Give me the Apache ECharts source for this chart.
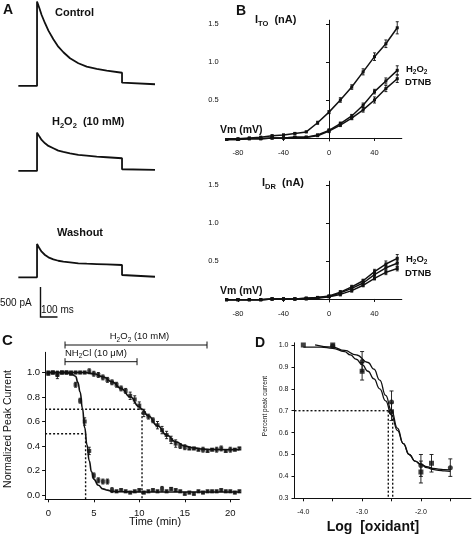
<!DOCTYPE html>
<html>
<head>
<meta charset="utf-8">
<script src="https://cdn.jsdelivr.net/npm/echarts@6/dist/echarts.min.js"></script>
<style>
  html, body { margin: 0; padding: 0; background: #fff; }
  #chart { width: 474px; height: 534px; }
</style>
</head>
<body>
<div id="chart"></div>
<script>
// ---- panel A : current traces (time in ms, current in pA) ----
const aTime    = [-110, 0, 0, 14, 27, 47, 67, 96, 125, 155, 194, 243, 292, 351, 410, 500, 500, 694];
const aControl = [0, 0, 1560, 1437, 1313, 1160, 1023, 864, 727, 623, 512, 420, 357, 315, 283, 244, 61, 31];
const aH2O2    = [0, 0, 709, 635, 574, 512, 463, 420, 376, 352, 327, 296, 283, 265, 253, 235, 31, 18];
const aWashout = [0, 0, 616, 537, 474, 413, 370, 333, 307, 289, 278, 259, 252, 246, 240, 228, 43, 11];

// ---- panel B : I-V curves (mV, nA) ----
const bV = [-90, -80, -70, -60, -50, -40, -30, -20, -10, 0, 10, 20, 30, 40, 50, 60];
const bToCtrl     = [-0.02, -0.01, 0.0, 0.01, 0.03, 0.04, 0.06, 0.08, 0.2, 0.34, 0.5, 0.67, 0.87, 1.07, 1.24, 1.45];
const bToCtrlErr  = [0.01, 0.01, 0.01, 0.01, 0.01, 0.01, 0.01, 0.01, 0.02, 0.02, 0.03, 0.03, 0.04, 0.05, 0.05, 0.08];
const bToH2O2     = [-0.02, -0.02, -0.01, -0.01, 0.0, 0.0, 0.01, 0.01, 0.04, 0.1, 0.19, 0.29, 0.43, 0.61, 0.75, 0.89];
const bToH2O2Err  = [0.01, 0.01, 0.01, 0.01, 0.01, 0.01, 0.01, 0.01, 0.01, 0.02, 0.02, 0.02, 0.03, 0.03, 0.04, 0.06];
const bToDtnb     = [-0.02, -0.02, -0.01, -0.01, 0.0, 0.0, 0.01, 0.01, 0.03, 0.09, 0.17, 0.26, 0.37, 0.5, 0.65, 0.78];
const bToDtnbErr  = [0.01, 0.01, 0.01, 0.01, 0.01, 0.01, 0.01, 0.01, 0.01, 0.02, 0.02, 0.02, 0.03, 0.04, 0.04, 0.05];
const bDrH2O2     = [-0.01, -0.01, -0.01, -0.01, 0.0, 0.0, 0.0, 0.01, 0.02, 0.04, 0.09, 0.16, 0.24, 0.36, 0.46, 0.535];
const bDrH2O2Err  = [0.01, 0.01, 0.01, 0.01, 0.01, 0.01, 0.01, 0.01, 0.01, 0.01, 0.02, 0.02, 0.02, 0.03, 0.04, 0.05];
const bDrCtrl     = [-0.01, -0.01, -0.01, -0.01, 0.0, 0.0, 0.0, 0.01, 0.02, 0.03, 0.08, 0.14, 0.21, 0.32, 0.41, 0.47];
const bDrCtrlErr  = [0.01, 0.01, 0.01, 0.01, 0.01, 0.01, 0.01, 0.01, 0.01, 0.01, 0.02, 0.02, 0.02, 0.03, 0.03, 0.04];
const bDrDtnb     = [-0.01, -0.01, -0.01, -0.01, 0.0, 0.0, 0.0, 0.0, 0.01, 0.03, 0.06, 0.11, 0.18, 0.27, 0.35, 0.40];
const bDrDtnbErr  = [0.01, 0.01, 0.01, 0.01, 0.01, 0.01, 0.01, 0.01, 0.01, 0.01, 0.02, 0.02, 0.02, 0.02, 0.03, 0.03];
const bTicks  = [-80, -40, 0, 40];
const bYTicks = [0.5, 1.0, 1.5];

// ---- panel C : time course (min, normalized) ----
const cTime = [0, 0.5, 1, 1.5, 2, 2.5, 3, 3.5, 4, 4.5, 5, 5.5, 6, 6.5, 7, 7.5, 8, 8.5, 9, 9.5, 10,
  10.5, 11, 11.5, 12, 12.5, 13, 13.5, 14, 14.5, 15, 15.5, 16, 16.5, 17, 17.5, 18, 18.5, 19, 19.5, 20, 20.5, 21];
const cH2O2 = [1.00, 1.00, 0.99, 1.00, 1.00, 1.00, 1.00, 1.00, 1.00, 1.01, 0.99, 0.98, 0.96, 0.94, 0.92, 0.90,
  0.87, 0.85, 0.81, 0.78, 0.73, 0.67, 0.64, 0.61, 0.57, 0.53, 0.49, 0.45, 0.42, 0.40, 0.39, 0.38, 0.38, 0.37,
  0.37, 0.36, 0.37, 0.37, 0.38, 0.36, 0.37, 0.37, 0.38];
const cH2O2Err = [0.01, 0.01, 0.02, 0.01, 0.01, 0.01, 0.01, 0.01, 0.01, 0.02, 0.02, 0.02, 0.02, 0.02, 0.02, 0.02,
  0.02, 0.02, 0.03, 0.03, 0.03, 0.03, 0.02, 0.02, 0.03, 0.03, 0.03, 0.03, 0.03, 0.02, 0.02, 0.01, 0.01, 0.01,
  0.02, 0.01, 0.01, 0.02, 0.02, 0.01, 0.02, 0.01, 0.01];
const cNH2Cl = [0.99, 1.00, 0.98, 1.00, 1.00, 0.99, 0.90, 0.77, 0.60, 0.36, 0.16, 0.12, 0.11, 0.11, 0.04, 0.03,
  0.04, 0.03, 0.02, 0.03, 0.04, 0.02, 0.03, 0.04, 0.03, 0.05, 0.03, 0.05, 0.04, 0.03, 0.01, 0.02, 0.01, 0.03,
  0.02, 0.03, 0.03, 0.03, 0.04, 0.03, 0.03, 0.02, 0.03];
const cNH2ClErr = [0.01, 0.01, 0.03, 0.01, 0.01, 0.01, 0.02, 0.02, 0.03, 0.03, 0.02, 0.02, 0.02, 0.02, 0.02, 0.01,
  0.01, 0.01, 0.01, 0.01, 0.01, 0.01, 0.01, 0.01, 0.01, 0.02, 0.01, 0.01, 0.01, 0.01, 0.01, 0.01, 0.01, 0.01,
  0.01, 0.01, 0.01, 0.01, 0.01, 0.01, 0.01, 0.01, 0.01];
const cFitFastT = [0, 1, 2, 2.5, 3, 3.25, 3.5, 3.75, 4, 4.25, 4.5, 4.75, 5, 5.5, 6, 6.5, 7, 8, 10, 15, 21];
const cFitFastV = [1.0, 1.0, 1.0, 0.99, 0.97, 0.92, 0.84, 0.71, 0.55, 0.41, 0.28, 0.19, 0.13, 0.08, 0.05, 0.04, 0.03, 0.027, 0.025, 0.025, 0.025];
const cFitSlowT = [0, 2, 4, 5, 6, 7, 8, 9, 10, 10.3, 11, 12, 13, 14, 15, 16, 17, 18, 21];
const cFitSlowV = [1.0, 1.0, 1.0, 0.99, 0.965, 0.925, 0.87, 0.80, 0.72, 0.70, 0.645, 0.565, 0.49, 0.435, 0.40, 0.385, 0.375, 0.372, 0.37];
const cH2O2Span  = [1.84, 17.44];   // H2O2 application, min
const cNH2ClSpan = [1.84, 9.75];    // NH2Cl application, min
const cT50 = 4.1, cT70 = 10.3;
const cXTicks = [0, 5, 10, 15, 20];
const cYTicks = [0, 0.2, 0.4, 0.6, 0.8, 1.0];

// ---- panel D : concentration response ----
const dCircX = [-3.5, -3.0, -2.5, -2.0, -1.5];
const dCircY = [0.995, 0.925, 0.74, 0.45, 0.44];
const dCircE = [0, 0.045, 0.05, 0.05, 0.04];
const dSqX = [-4.0, -3.5, -3.0, -2.5, -2.0, -1.82];
const dSqY = [1.0, 1.0, 0.88, 0.695, 0.42, 0.46];
const dSqE = [0, 0, 0.04, 0.04, 0.05, 0.04];
const dFitAX = [-3.8, -3.5, -3.3, -3.1, -2.9, -2.8, -2.7, -2.6, -2.5, -2.4, -2.3, -2.2, -2.1, -2.0, -1.9, -1.8, -1.7, -1.6, -1.5];
const dFitAY = [1.0, 0.99, 0.975, 0.955, 0.92, 0.89, 0.84, 0.77, 0.70, 0.62, 0.55, 0.50, 0.47, 0.455, 0.445, 0.437, 0.433, 0.431, 0.43];
const dFitBX = [-4.0, -3.7, -3.5, -3.3, -3.2, -3.1, -3.0, -2.9, -2.8, -2.7, -2.6, -2.5, -2.4, -2.3, -2.2, -2.1, -2.0, -1.9, -1.8, -1.7, -1.6, -1.5];
const dFitBY = [0.99, 0.99, 0.985, 0.97, 0.955, 0.935, 0.91, 0.88, 0.845, 0.80, 0.745, 0.68, 0.61, 0.55, 0.50, 0.47, 0.455, 0.44, 0.432, 0.428, 0.425, 0.423];
const dIC70 = [-2.555, -2.48];
const dXTicks  = [-4.0, -3.5, -3.0, -2.5, -2.0, -1.5];
const dXLabels = [-4.0, -3.0, -2.0];
const dYTicks  = [0.3, 0.4, 0.5, 0.6, 0.7, 0.8, 0.9, 1.0];

const INK = '#111';
const FONT = '"Liberation Sans", Arial, sans-serif';

function zip(xs, ys) { return xs.map((x, i) => [x, ys[i]]); }
function zip3(xs, ys, es) { return xs.map((x, i) => [x, ys[i], es[i]]); }

// 误差线
function errRender(cap) {
  return function (params, api) {
    const x = api.value(0), y = api.value(1), e = api.value(2);
    if (!e) return { type: 'group', children: [] };
    const t = api.coord([x, y + e]), b = api.coord([x, y - e]);
    const st = { stroke: INK, lineWidth: 0.9 };
    return { type: 'group', children: [
      { type: 'line', shape: { x1: t[0], y1: t[1], x2: b[0], y2: b[1] }, style: st },
      { type: 'line', shape: { x1: t[0] - cap, y1: t[1], x2: t[0] + cap, y2: t[1] }, style: st },
      { type: 'line', shape: { x1: b[0] - cap, y1: b[1], x2: b[0] + cap, y2: b[1] }, style: st }
    ]};
  };
}
function errSeries(xs, ys, es, g, cap) {
  return { type: 'custom', xAxisIndex: g, yAxisIndex: g, data: zip3(xs, ys, es),
    encode: { x: 0, y: 1 }, renderItem: errRender(cap), silent: true, z: 3 };
}
function markLine(xs, ys, g, sym, size, w) {
  return { type: 'line', xAxisIndex: g, yAxisIndex: g, data: zip(xs, ys), symbol: sym, symbolSize: size,
    itemStyle: { color: INK }, lineStyle: { color: INK, width: w }, silent: true, z: 4 };
}
function dots(xs, ys, g, sym, size) {
  return { type: 'scatter', xAxisIndex: g, yAxisIndex: g, data: zip(xs, ys), symbol: sym, symbolSize: size,
    itemStyle: { color: INK }, silent: true, z: 4 };
}
function fit(xs, ys, g, w) {
  return { type: 'line', xAxisIndex: g, yAxisIndex: g, data: zip(xs, ys), symbol: 'none', smooth: 0.5,
    smoothMonotone: 'x', lineStyle: { color: INK, width: w }, silent: true, z: 5 };
}
function trace(ys, g) {
  return { type: 'line', xAxisIndex: g, yAxisIndex: g, data: zip(aTime, ys), symbol: 'none',
    lineStyle: { color: INK, width: 1.8 }, silent: true };
}
function guide(pts, g) {
  return { type: 'line', xAxisIndex: g, yAxisIndex: g, data: pts, symbol: 'none',
    lineStyle: { color: INK, width: 1.4, type: [2, 2] }, silent: true, z: 2 };
}
function span(rng, g, dy) {
  return { type: 'custom', xAxisIndex: g, yAxisIndex: g, data: [rng], encode: { x: [0, 1] }, silent: true,
    renderItem: function (params, api) {
      const s = api.coord([api.value(0), 0])[0], e = api.coord([api.value(1), 0])[0];
      const y = params.coordSys.y + dy;
      const st = { stroke: INK, lineWidth: 1 };
      return { type: 'group', children: [
        { type: 'line', shape: { x1: s, y1: y, x2: e, y2: y }, style: st },
        { type: 'line', shape: { x1: s, y1: y - 3.5, x2: s, y2: y + 3.5 }, style: st },
        { type: 'line', shape: { x1: e, y1: y - 3.5, x2: e, y2: y + 3.5 }, style: st }
      ]};
    } };
}

function hiddenAxis(g, min, max) {
  return { type: 'value', gridIndex: g, min: min, max: max, show: false };
}
function axis(g, min, max, ticks, labels, fmt, size, margin, onZero) {
  return { type: 'value', gridIndex: g, min: min, max: max,
    axisLine: { onZero: onZero, lineStyle: { color: INK, width: 1 } },
    axisTick: { customValues: ticks, length: 3, lineStyle: { color: INK, width: 1 } },
    axisLabel: { customValues: labels, formatter: fmt, color: INK, fontFamily: FONT, fontSize: size, margin: margin },
    splitLine: { show: false } };
}
const f1 = v => v.toFixed(1);
const f0 = v => String(v);

function txt(x, y, text, font, align, rot, rich) {
  const el = { type: 'text', x: x, y: y, silent: true,
    style: { text: text, font: font, fill: INK, align: align || 'left', verticalAlign: 'middle' } };
  if (rot) el.rotation = rot;
  if (rich) el.style.rich = rich;
  return el;
}
// 下标：用 padding 把小字压低
function subRich(size, weight) {
  const s = +(size * 0.68).toFixed(1);
  return {
    b: { font: weight + ' ' + size + 'px ' + FONT, fill: INK },
    s: { font: weight + ' ' + s + 'px ' + FONT, fill: INK, verticalAlign: 'bottom',
         padding: [Math.round(size * 0.75), 0, 0, 0] }
  };
}

const chart = echarts.init(document.getElementById('chart'), null, { renderer: 'canvas' });
chart.setOption({
  animation: false,
  backgroundColor: '#fff',
  grid: [
    { left: 18, top: 0, width: 137, height: 91.35 },
    { left: 18, top: 85, width: 137, height: 91.35 },
    { left: 18, top: 191.4, width: 137, height: 91.35 },
    { left: 226.6, top: 20.2, width: 175.2, height: 120.8 },
    { left: 226.6, top: 181.2, width: 175.2, height: 120.8 },
    { left: 45.1, top: 352.3, width: 194.3, height: 147 },
    { left: 294.5, top: 342.8, width: 176.4, height: 155.5 }
  ],
  xAxis: [
    hiddenAxis(0, -112, 694), hiddenAxis(1, -112, 694), hiddenAxis(2, -112, 694),
    axis(3, -90, 64, bTicks, bTicks, f0, 7.5, 8, true),
    axis(4, -90, 64, bTicks, bTicks, f0, 7.5, 8, true),
    axis(5, -0.35, 21, cXTicks, cXTicks, f0, 9.5, 9, false),
    axis(6, -4.15, -1.15, dXTicks, dXLabels, f1, 7, 10, false)
  ],
  yAxis: [
    hiddenAxis(0, -100, 1590), hiddenAxis(1, -100, 1590), hiddenAxis(2, -100, 1590),
    axis(3, -0.04, 1.55, bYTicks, bYTicks, f1, 7.5, 8, true),
    axis(4, -0.04, 1.55, bYTicks, bYTicks, f1, 7.5, 8, true),
    axis(5, -0.035, 1.165, cYTicks, cYTicks, f1, 9.5, 5, false),
    axis(6, 0.3, 1.01, dYTicks, dYTicks, f1, 7, 6, false)
  ],
  series: [
    trace(aControl, 0), trace(aH2O2, 1), trace(aWashout, 2),

    errSeries(bV, bToCtrl, bToCtrlErr, 3, 1.5), markLine(bV, bToCtrl, 3, 'rect', 3, 1.5),
    errSeries(bV, bToH2O2, bToH2O2Err, 3, 1.5), markLine(bV, bToH2O2, 3, 'rect', 3, 1.5),
    errSeries(bV, bToDtnb, bToDtnbErr, 3, 1.5), markLine(bV, bToDtnb, 3, 'rect', 3, 1.5),

    errSeries(bV, bDrH2O2, bDrH2O2Err, 4, 1.5), markLine(bV, bDrH2O2, 4, 'rect', 3, 1.5),
    errSeries(bV, bDrCtrl, bDrCtrlErr, 4, 1.5), markLine(bV, bDrCtrl, 4, 'rect', 3, 1.5),
    errSeries(bV, bDrDtnb, bDrDtnbErr, 4, 1.5), markLine(bV, bDrDtnb, 4, 'rect', 3, 1.5),

    guide([[-0.35, 0.7], [cT70, 0.7], [cT70, -0.035]], 5),
    guide([[-0.35, 0.5], [cT50, 0.5], [cT50, -0.035]], 5),
    errSeries(cTime, cH2O2, cH2O2Err, 5, 1.5), dots(cTime, cH2O2, 5, 'rect', 4),
    errSeries(cTime, cNH2Cl, cNH2ClErr, 5, 1.5), dots(cTime, cNH2Cl, 5, 'rect', 4),
    fit(cFitSlowT, cFitSlowV, 5, 1.6), fit(cFitFastT, cFitFastV, 5, 1.6),
    span(cH2O2Span, 5, -7.3), span(cNH2ClSpan, 5, 9.4),

    guide([[-4.15, 0.7], [dIC70[1], 0.7]], 6),
    guide([[dIC70[0], 0.7], [dIC70[0], 0.3]], 6),
    guide([[dIC70[1], 0.7], [dIC70[1], 0.3]], 6),
    errSeries(dCircX, dCircY, dCircE, 6, 2), dots(dCircX, dCircY, 6, 'circle', 5),
    errSeries(dSqX, dSqY, dSqE, 6, 2), dots(dSqX, dSqY, 6, 'rect', 5),
    fit(dFitAX, dFitAY, 6, 1.3), fit(dFitBX, dFitBY, 6, 1.3)
  ],
  graphic: [
    // panel A
    txt(3, 10.5, 'A', 'bold 14px ' + FONT),
    txt(55, 12.5, 'Control', 'bold 11px ' + FONT),
    txt(52, 122, '{b|H}{s|2}{b|O}{s|2}{b|  (10 mM)}', 'bold 11px ' + FONT, 'left', 0, subRich(11, 'bold')),
    txt(57, 233, 'Washout', 'bold 11px ' + FONT),
    txt(0, 303, '500 pA', '10px ' + FONT),
    txt(41, 310.5, '100 ms', '10px ' + FONT),
    { type: 'polyline', silent: true, shape: { points: [[40.5, 287], [40.5, 317], [57.5, 317]] },
      style: { stroke: INK, lineWidth: 1.4, fill: null } },

    // panel B
    txt(236, 11, 'B', 'bold 14px ' + FONT),
    txt(255, 20, '{b|I}{s|TO}{b|  (nA)}', 'bold 11px ' + FONT, 'left', 0, subRich(11, 'bold')),
    txt(220, 130.5, 'Vm (mV)', 'bold 10.5px ' + FONT),
    txt(406, 69, '{b|H}{s|2}{b|O}{s|2}', 'bold 9.5px ' + FONT, 'left', 0, subRich(9.5, 'bold')),
    txt(405, 82, 'DTNB', 'bold 9.5px ' + FONT),
    txt(262, 183, '{b|I}{s|DR}{b|  (nA)}', 'bold 11px ' + FONT, 'left', 0, subRich(11, 'bold')),
    txt(220, 291.5, 'Vm (mV)', 'bold 10.5px ' + FONT),
    txt(406, 259, '{b|H}{s|2}{b|O}{s|2}', 'bold 9.5px ' + FONT, 'left', 0, subRich(9.5, 'bold')),
    txt(405, 273, 'DTNB', 'bold 9.5px ' + FONT),

    // panel C
    txt(2, 341, 'C', 'bold 15px ' + FONT),
    txt(139.5, 336.5, '{b|H}{s|2}{b|O}{s|2}{b| (10 mM)}', '9.5px ' + FONT, 'center', 0, subRich(9.5, 'normal')),
    txt(65, 353, '{b|NH}{s|2}{b|Cl (10 μM)}', '9.5px ' + FONT, 'left', 0, subRich(9.5, 'normal')),
    txt(8, 429, 'Normalized Peak Current', '10.5px ' + FONT, 'center', Math.PI / 2),
    txt(155, 522, 'Time (min)', '11px ' + FONT, 'center'),

    // panel D
    txt(255, 343, 'D', 'bold 14px ' + FONT),
    txt(265, 406, 'Percent peak current', '6.5px ' + FONT, 'center', Math.PI / 2),
    txt(373, 527, 'Log  [oxidant]', 'bold 14px ' + FONT, 'center')
  ]
});
</script>
</body>
</html>
